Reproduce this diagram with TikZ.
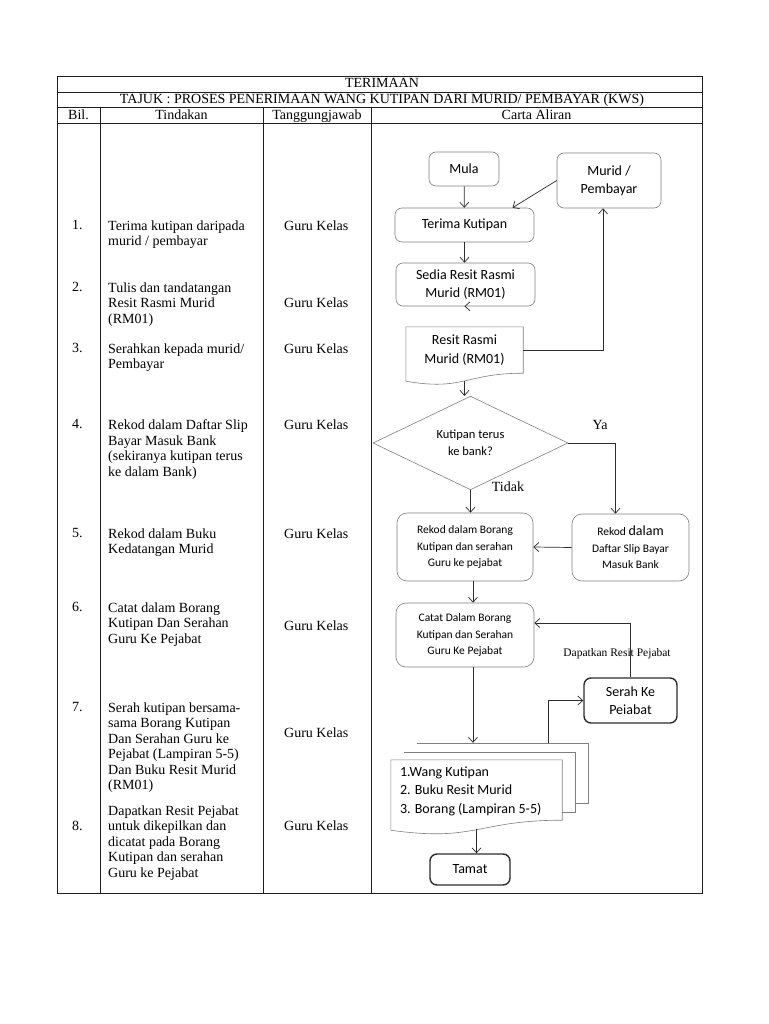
\documentclass[tikz,border=0pt]{standalone}
\usepackage{fontspec}
\setmainfont{Liberation Serif}
\newfontfamily\calib{Carlito}
\usetikzlibrary{shapes.geometric,arrows.meta}

\definecolor{boxgray}{RGB}{128,128,128}
\definecolor{linegray}{RGB}{45,45,45}
\definecolor{tablegray}{RGB}{30,30,30}

\begin{document}
\begin{tikzpicture}[x=1pt,y=-1pt,inner sep=0pt,
  cell/.style={font=\fontsize{14}{15.5}\selectfont,align=left,anchor=north west},
  head/.style={font=\fontsize{14}{15.5}\selectfont,text height=9.5pt,text depth=3pt},
  box/.style={draw=boxgray,line width=0.6pt,rounded corners=7pt,align=center,
    font=\calib\fontsize{14}{18}\selectfont},
  smallbox/.style={box,rounded corners=10pt,font=\calib\fontsize{11.5}{16.5}\selectfont},
  endbox/.style={box,draw=linegray,line width=1.4pt},
  decide/.style={draw=boxgray,line width=0.6pt,diamond,align=center,
    font=\calib\fontsize{12.5}{17}\selectfont},
  arr/.style={draw=linegray,line width=0.7pt,-{Straight Barb[length=5pt,width=9pt]}},
  lbl/.style={font=\fontsize{14}{15.5}\selectfont}]

\useasboundingbox[fill=white] (0,0) rectangle (768,1024);

% table
\draw[tablegray,line width=0.9pt] (57,76) rectangle (702,893);
\draw[tablegray,line width=0.9pt] (57,92.5) -- (702,92.5);
\draw[tablegray,line width=0.9pt] (57,107) -- (702,107);
\draw[tablegray,line width=0.9pt] (57,123) -- (702,123);
\draw[tablegray,line width=0.9pt] (100,107) -- (100,893);
\draw[tablegray,line width=0.9pt] (263,107) -- (263,893);
\draw[tablegray,line width=0.9pt] (371,107) -- (371,893);

\node[head] (judul) at (382,84.5) {TERIMAAN};
\node[head] (tajuk) at (382,100) {TAJUK : PROSES PENERIMAAN WANG KUTIPAN DARI MURID/ PEMBAYAR (KWS)};
\node[head] (hbil) at (78.5,116) {Bil.};
\node[head] (htin) at (181.5,116) {Tindakan};
\node[head] (htgj) at (317,116) {Tanggungjawab};
\node[head] (hcar) at (536.5,116) {Carta Aliran};

% bil.
\node[cell] (b1) at (72,220.5) {1.};
\node[cell] (b2) at (72,282.5) {2.};
\node[cell] (b3) at (72,343.5) {3.};
\node[cell] (b4) at (72,419.5) {4.};
\node[cell] (b5) at (72,528.5) {5.};
\node[cell] (b6) at (72,602.5) {6.};
\node[cell] (b7) at (72,702.5) {7.};
\node[cell] (b8) at (72,820.5) {8.};

% tindakan
\node[cell] (t1) at (108,220.5) {Terima kutipan daripada\\murid / pembayar};
\node[cell] (t2) at (108,282.5) {Tulis dan tandatangan\\Resit Rasmi Murid\\(RM01)};
\node[cell] (t3) at (108,343.5) {Serahkan kepada murid/\\Pembayar};
\node[cell] (t4) at (108,419.5) {Rekod dalam Daftar Slip\\Bayar Masuk Bank\\(sekiranya kutipan terus\\ke dalam Bank)};
\node[cell] (t5) at (108,528.5) {Rekod dalam Buku\\Kedatangan Murid};
\node[cell] (t6) at (108,602.5) {Catat dalam Borang\\Kutipan Dan Serahan\\Guru Ke Pejabat};
\node[cell] (t7) at (108,702.5) {Serah kutipan bersama-\\sama Borang Kutipan\\Dan Serahan Guru ke\\Pejabat (Lampiran 5-5)\\Dan Buku Resit Murid\\(RM01)};
\node[cell] (t8) at (108,805.5) {Dapatkan Resit Pejabat\\untuk dikepilkan dan\\dicatat pada Borang\\Kutipan dan serahan\\Guru ke Pejabat};

% tanggungjawab
\node[cell] (g1) at (284,220.5) {Guru Kelas};
\node[cell] (g2) at (284,297.5) {Guru Kelas};
\node[cell] (g3) at (284,343.5) {Guru Kelas};
\node[cell] (g4) at (284,419.5) {Guru Kelas};
\node[cell] (g5) at (284,528.5) {Guru Kelas};
\node[cell] (g6) at (284,621) {Guru Kelas};
\node[cell] (g7) at (284,728) {Guru Kelas};
\node[cell] (g8) at (284,820.5) {Guru Kelas};

% carta aliran
\node[box,minimum width=70,minimum height=34] (mula) at (464,169) {Mula};
\node[box,minimum width=104,minimum height=55] (murid) at (609,180.5) {Murid /\\Pembayar};
\node[box,minimum width=139,minimum height=34] (terima) at (464.5,225) {Terima Kutipan};
\node[box,minimum width=139,minimum height=43] (sedia) at (465.5,284.5) {Sedia Resit Rasmi\\Murid (RM01)};
\node[align=center,font=\calib\fontsize{14}{19}\selectfont,minimum width=117,minimum height=46] (resit) at (464.5,350) {Resit Rasmi\\Murid (RM01)};
\draw[boxgray,line width=0.6pt] (resit.north west) -- (resit.north east) -- (resit.south east)
  .. controls +(-58,0) and +(58,10) .. ([yshift=-8pt]resit.south west) -- cycle;

\node[decide,minimum width=195,minimum height=76] (bank) at (470.5,443) {Kutipan terus\\ke bank?};
\node[lbl] (ya) at (600,425) {Ya};
\node[lbl] (tidak) at (508,487) {Tidak};

\node[smallbox,minimum width=136,minimum height=68] (borang) at (465,547) {Rekod dalam Borang\\Kutipan dan serahan\\Guru ke pejabat};
\node[smallbox,minimum width=117,minimum height=67] (daftar) at (630.5,547.5) {Rekod {\fontsize{14}{16.5}\selectfont dalam}\\Daftar Slip Bayar\\Masuk Bank};
\node[smallbox,minimum width=138,minimum height=64] (catat) at (465,635) {Catat Dalam Borang\\Kutipan dan Serahan\\Guru Ke Pejabat};
\node[endbox,minimum width=93,minimum height=45] (serah) at (630.5,700.5) {Serah Ke\\Peiabat};
\node[font=\fontsize{11.5}{13}\selectfont] (resitpej) at (617,654) {Dapatkan Resit Pejabat};

\node[minimum width=171,minimum height=60] (docs) at (476.5,790) {};
\draw[boxgray,line width=0.6pt] ([shift={(26pt,17pt)}]docs.north west) -- ([shift={(26pt,17pt)}]docs.north east)
  -- ([shift={(26pt,17pt)}]docs.south east) -- ++(-13,0);
\draw[boxgray,line width=0.6pt] ([shift={(13pt,8pt)}]docs.north west) -- ([shift={(13pt,8pt)}]docs.north east)
  -- ([shift={(13pt,8pt)}]docs.south east) -- ++(-13,0);
\draw[boxgray,line width=0.6pt,fill=white] (docs.north west) -- (docs.north east) -- (docs.south east)
  .. controls +(-85,0) and +(85,12) .. ([yshift=-10pt]docs.south west) -- cycle;
\node[align=left,anchor=west,font=\calib\fontsize{14}{18.5}\selectfont] (docstext) at ([xshift=9pt,yshift=-1pt]docs.west)
  {1.Wang Kutipan\\2. Buku Resit Murid\\3. Borang (Lampiran 5-5)};
\coordinate (docsout) at ([xshift=-14pt,yshift=17pt]docs.north east);

\node[endbox,minimum width=80,minimum height=31] (tamat) at (470,869.5) {Tamat};

% connectors
\draw[arr] (mula) -- (terima);
\draw[arr] (murid.west) -- ([xshift=48pt]terima.north);
\draw[arr] (terima) -- (terima |- sedia.north);
\draw[arr] (sedia) -- (sedia.south -| resit.north);
\draw[arr] (resit.east) -| ([xshift=-6pt]murid.south);
\draw[arr] ([yshift=-8pt]resit.south) -- (resit.south |- bank.north);
\draw[arr] (bank.east) -| ([xshift=-15pt]daftar.north);
\draw[arr] (bank.south) -- (bank.south |- borang.north);
\draw[arr] (daftar.west) -- (borang.east);
\draw[arr] ([xshift=8pt]borang.south) -- ([xshift=8pt]catat.north);
\draw[arr] (serah.north) |- ([yshift=12pt]catat.east);
\draw[arr] ([xshift=8pt]catat.south) -- ([xshift=8pt]catat.south |- docsout);
\draw[arr] (docsout) |- (serah.west);
\draw[arr] ([yshift=-9pt]docs.south) -- (docs.south |- tamat.north);

\end{tikzpicture}
\end{document}
